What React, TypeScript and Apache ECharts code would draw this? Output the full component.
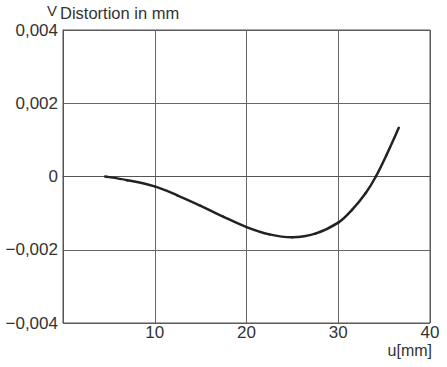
import React, { useEffect, useRef } from "react";
import * as echarts from "echarts";

const uValues = [4.6, 7, 10, 12.5, 15, 17.5, 20, 22.5, 25, 27.5, 30, 31.5, 33, 34.1, 35.3, 36.6];
const vValues = [0, -0.0001, -0.00027, -0.00052, -0.0008, -0.0011, -0.00138, -0.00158, -0.00166, -0.00156, -0.00126, -0.00091, -0.00045, 0, 0.00061, 0.00133];
const xTicks = [10, 20, 30, 40];
const yTicks = [-0.004, -0.002, 0, 0.002, 0.004];

const FONT = "'Liberation Sans', Arial, sans-serif";

function fmtY(v: number): string {
  if (Math.abs(v) < 1e-9) return "0";
  const s = Math.abs(v).toFixed(3).replace(".", ",");
  return v < 0 ? "\u2212" + s : s;
}

export default function App() {
  const ref = useRef<HTMLDivElement>(null);
  useEffect(() => {
    if (!ref.current) return;
    const chart = echarts.init(ref.current, undefined, { renderer: "svg" });
    const n = uValues.length;
    chart.setOption({
      animation: false,
      backgroundColor: "#ffffff",
      grid: { left: 63, right: 17, top: 30, bottom: 44 },
      xAxis: {
        type: "value",
        min: 0,
        max: 40,
        interval: 10,
        axisLine: { show: true, lineStyle: { color: "#555", width: 1 } },
        axisTick: { show: false },
        splitLine: { show: true, lineStyle: { color: "#666", width: 1 } },
        axisLabel: {
          margin: 1,
          fontFamily: FONT,
          fontSize: 17,
          color: "#333",
          formatter: (v: number) => (xTicks.includes(v) ? String(v) : ""),
        },
      },
      yAxis: {
        type: "value",
        min: -0.004,
        max: 0.004,
        interval: 0.002,
        axisLine: { show: true, lineStyle: { color: "#555", width: 1 } },
        axisTick: { show: false },
        splitLine: { show: true, lineStyle: { color: "#666", width: 1 } },
        axisLabel: {
          margin: 5,
          fontFamily: FONT,
          fontSize: 17,
          color: "#333",
          formatter: (v: number) => (yTicks.some((t) => Math.abs(t - v) < 1e-9) ? fmtY(v) : ""),
        },
      },
      graphic: [
        { type: "rect", shape: { x: 63, y: 30, width: 367, height: 293 }, style: { fill: "none", stroke: "#555", lineWidth: 1 }, z: 10 },
        { type: "text", x: 47, y: 3, style: { text: "V", font: `15px ${FONT}`, fill: "#333" } },
        { type: "text", x: 60, y: 4, style: { text: "Distortion in mm", font: `16.5px ${FONT}`, fill: "#333" } },
        { type: "text", x: 432, y: 342, style: { text: "u[mm]", font: `16px ${FONT}`, fill: "#333", align: "right" } },
      ],
      series: [
        {
          type: "custom",
          data: uValues.map((u, i) => [u, vValues[i]]),
          encode: { x: 0, y: 1 },
          silent: true,
          z: 5,
          renderItem: (params: any, api: any) => {
            const i = params.dataIndex;
            if (i >= n - 1) return null;
            const pt = (k: number) => {
              const kk = Math.max(0, Math.min(n - 1, k));
              return api.coord([uValues[kk], vValues[kk]]);
            };
            const p0 = pt(i - 1);
            const p1 = pt(i);
            const p2 = pt(i + 1);
            const p3 = pt(i + 2);
            return {
              type: "bezierCurve",
              shape: {
                x1: p1[0],
                y1: p1[1],
                x2: p2[0],
                y2: p2[1],
                cpx1: p1[0] + (p2[0] - p0[0]) / 6,
                cpy1: p1[1] + (p2[1] - p0[1]) / 6,
                cpx2: p2[0] - (p3[0] - p1[0]) / 6,
                cpy2: p2[1] - (p3[1] - p1[1]) / 6,
              },
              style: { fill: "none", stroke: "#222", lineWidth: 2.5, lineCap: "round" },
            };
          },
        },
      ],
    });
    return () => chart.dispose();
  }, []);
  return <div ref={ref} style={{ width: 447, height: 367, position: "absolute", left: 0, top: 0 }} />;
}
